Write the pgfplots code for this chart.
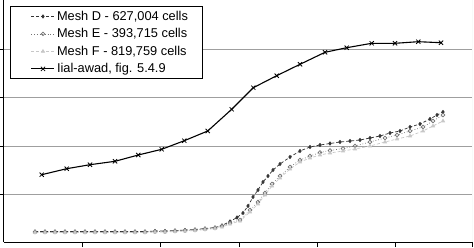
\documentclass[border=0pt]{standalone}
\usepackage{pgfplots}
\pgfplotsset{compat=1.18}
\usepackage{fontspec}
\setmainfont{Liberation Sans}
\begin{document}
\begin{tikzpicture}
\begin{axis}[
  name=ax,
  width=468pt, height=242pt, scale only axis,
  xmin=4, xmax=472, ymin=0, ymax=242,
  axis x line*=bottom, axis y line*=left,
  axis line style={black, line width=1pt, -},
  xtick={82,160,239,317,395,472}, ytick={48,96,145,193},
  xticklabels={}, yticklabels={},
  tick align=outside, major tick length=5pt,
  tick style={black, line width=0.8pt},
  ymajorgrids, grid style={gray!75, line width=0.9pt},
  legend style={at={(0.0128,0.975)}, anchor=north west, draw=black, line width=1pt,
    font=\fontsize{12.8}{14}\selectfont, inner xsep=13pt, inner ysep=2.5pt, row sep=2.7pt,
    cells={anchor=west}},
  legend image code/.code={\path[draw=none,fill=none] (-8pt,0pt) rectangle (23pt,0pt); \draw[mark repeat=2,mark phase=2,#1] plot coordinates {(0pt,0pt) (11.5pt,0pt) (23pt,0pt)};},
  legend cell align=left,
]
\addplot[black!80, line width=0.7pt, dash pattern=on 3pt off 2pt, mark=diamond*, mark size=1.6pt, mark options={solid, fill=black!80}] coordinates {
(35,10.5)(45,10.5)(55,10.5)(65,10.5)(75,10.5)(85,10.5)(95,10.5)(105,10.5)(115,10.5)(125,10.5)(135,10.5)(145,10.5)(155,11)(165,11)(175,11.5)(185,12)(195,12.5)(205,13.5)(215,14.5)(222,16.5)(230,20.5)(237,24.5)(243,29)(248,36)(253,45)(258,52)(263,60)(268,66)(273,72)(280,78)(290,85)(300,91)(310,95)(320,97)(330,98.5)(340,100)(350,101)(360,102)(370,104)(380,106)(390,109)(400,111)(410,115)(420,118)(430,123)(437,127)(443,130)};
\addlegendentry{Mesh D - 627,004 cells}
\addplot[black!55, line width=0.7pt, dotted, mark=o, mark size=1.8pt, mark options={solid}] coordinates {
(35,10)(45,10)(55,10)(65,10)(75,10)(85,10)(95,10)(105,10)(115,10)(125,10)(135,10)(145,10)(155,10.5)(165,10.5)(175,11)(185,11.5)(195,12)(205,13)(215,14)(222,16)(230,19)(240,22)(250,32)(258,40)(265,49)(272,58)(280,66)(290,75)(300,82)(310,86)(320,89.5)(330,91.5)(343,93.5)(355,96)(370,100)(385,104)(397,107)(410,111)(423,115)(433,121)(443,127)};
\addlegendentry{Mesh E - 393,715 cells}
\addplot[black!22, line width=0.7pt, dash pattern=on 3pt off 2pt, mark=triangle*, mark size=1.8pt, mark options={solid, fill=black!22}] coordinates {
(35,9.5)(45,9.5)(55,9.5)(65,9.5)(75,9.5)(85,9.5)(95,9.5)(105,9.5)(115,9.5)(125,9.5)(135,9.5)(145,9.5)(155,10)(165,10)(175,10.5)(185,11)(195,11.5)(205,12.5)(215,13.5)(222,15)(230,18)(240,21)(250,30)(258,38)(265,47)(272,56)(280,64)(290,73)(300,80)(310,84)(320,87)(330,89)(343,91)(355,93)(370,96)(385,100)(397,103)(410,106)(423,111)(433,116)(443,121)};
\addlegendentry{Mesh F - 819,759 cells}
\addplot[black, line width=1.1pt, mark=x, mark size=3pt, mark options={line width=0.8pt}] coordinates {
(41.7,67.3)(66.7,73.3)(90,77.3)(115,80.7)(138.3,87)(161.7,92.7)(184.3,101.3)(207.7,111)(231.7,132.7)(253.3,154.3)(276.7,166.3)(300,177.7)(325,189.7)(346.7,194.3)(371.7,198.7)(395,198.7)(418.3,200.3)(441,199.3)};
\addlegendentry{Iial-awad, fig. 5.4.9}
\draw[black!20, line width=1pt] (rel axis cs:1,0) -- (rel axis cs:1,1);
\end{axis}
\pgfresetboundingbox
\path ([xshift=-4pt,yshift=-5pt]ax.south west) rectangle ([xshift=2pt]ax.north east);
\end{tikzpicture}
\end{document}
